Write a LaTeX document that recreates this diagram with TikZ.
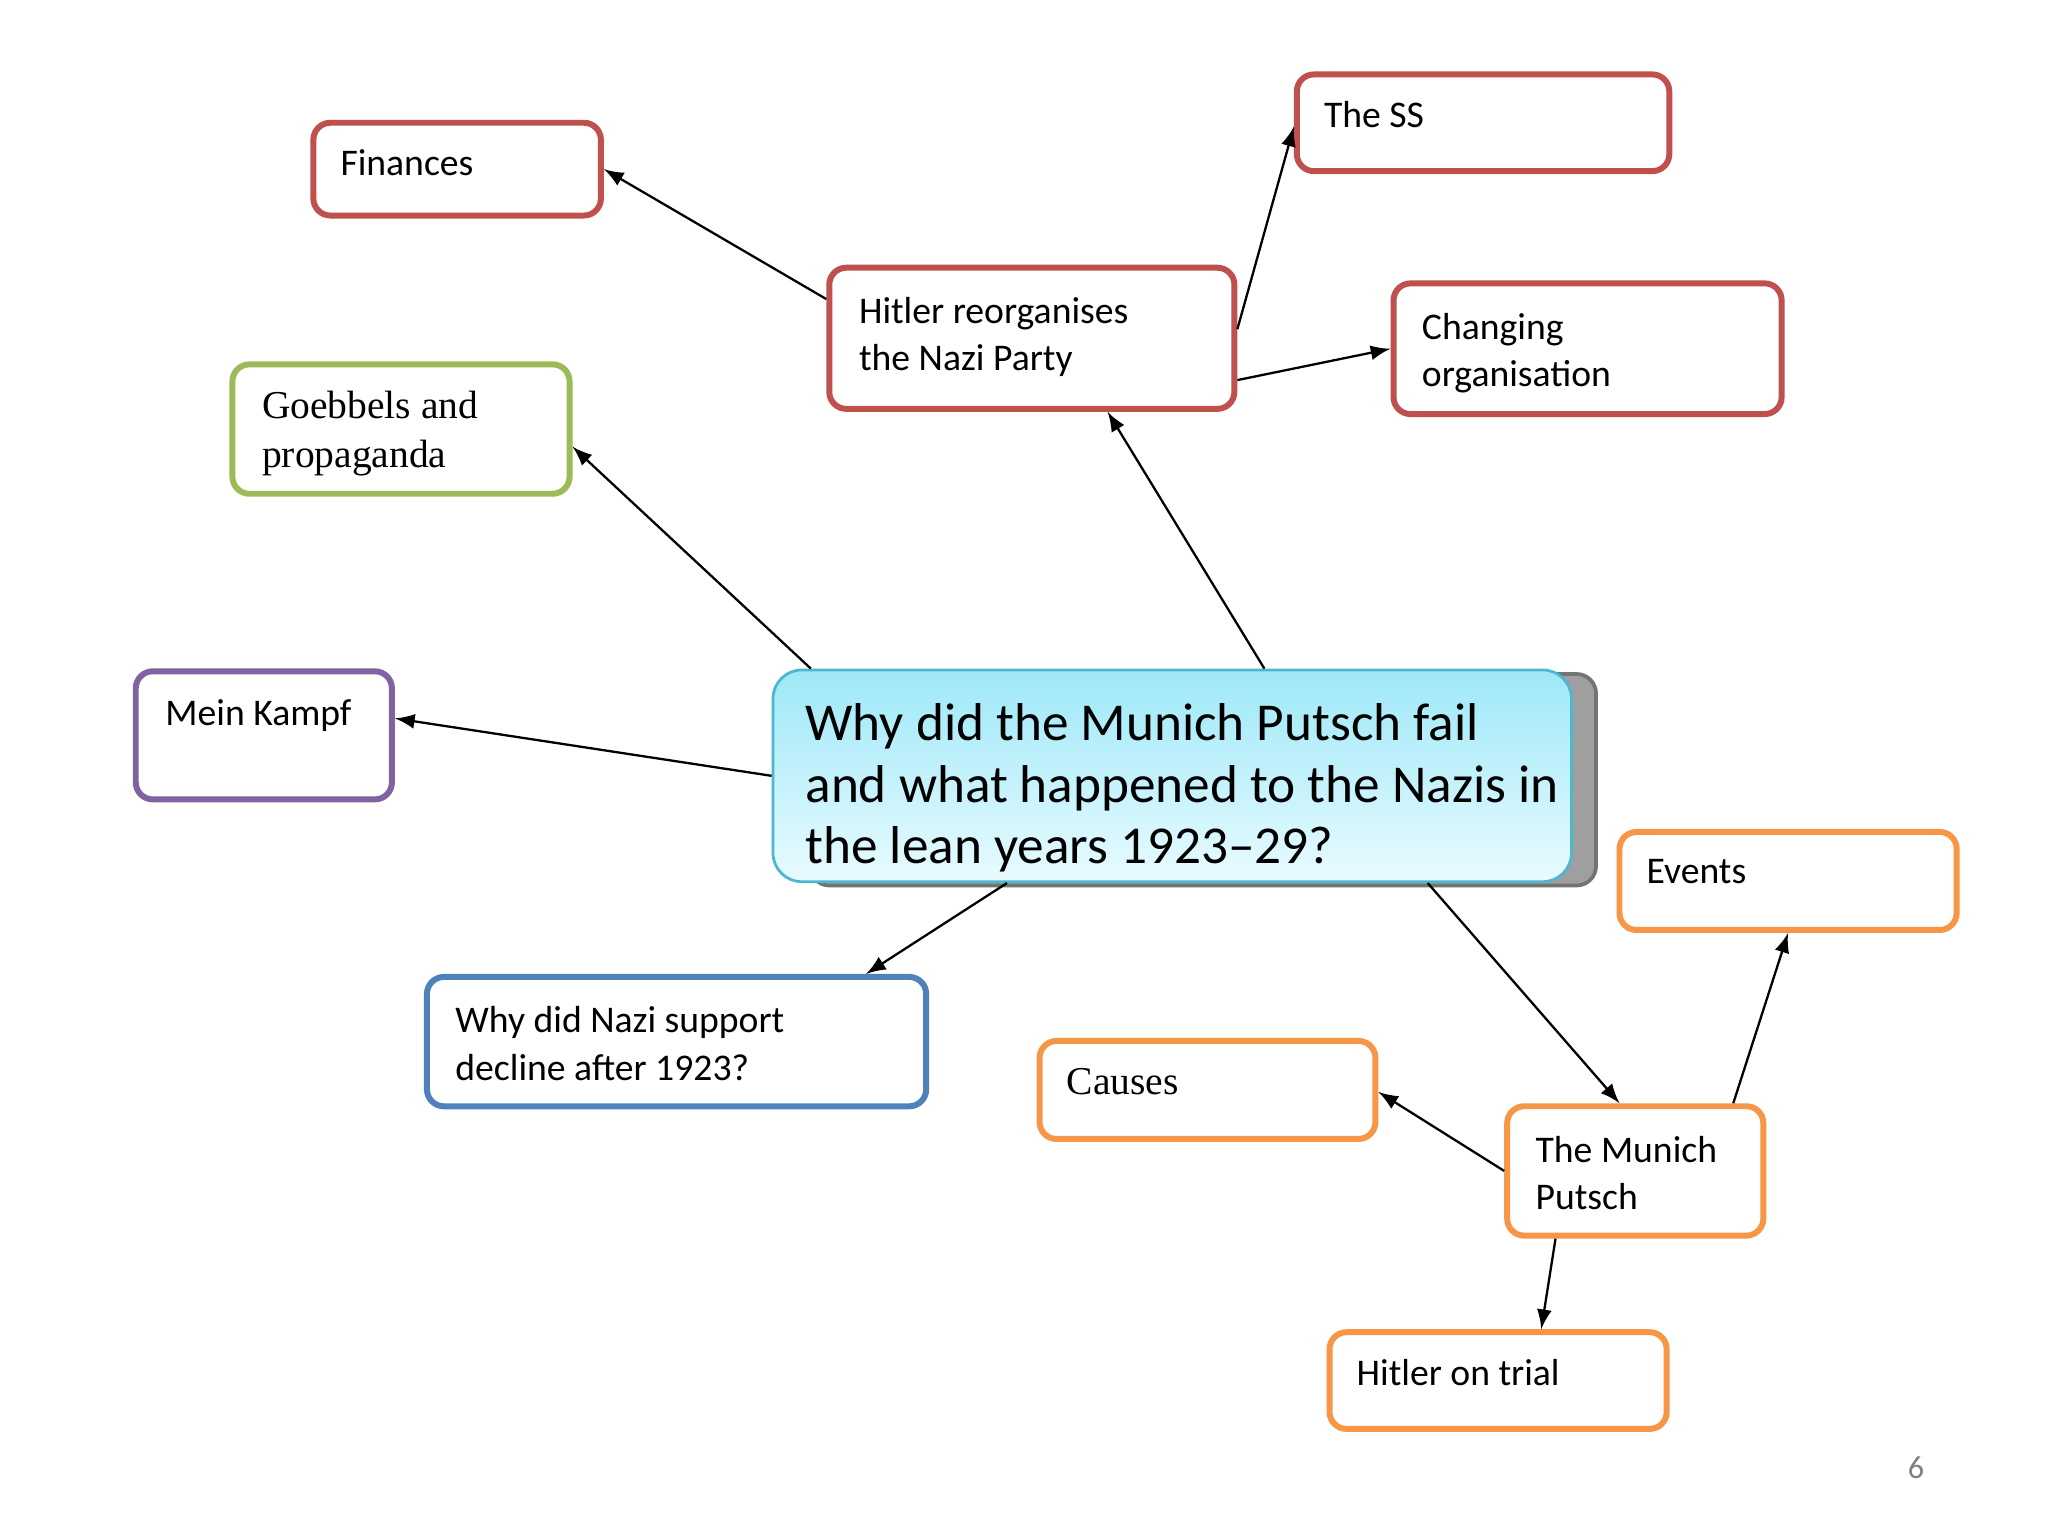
\documentclass[tikz,border=0pt]{standalone}
\usepackage{fontspec}
\setmainfont{Carlito}
\newfontfamily\serifx{Liberation Serif}
\usetikzlibrary{calc}
\definecolor{cred}{HTML}{C0504D}
\definecolor{cgreen}{HTML}{9BBB59}
\definecolor{cpurple}{HTML}{8064A2}
\definecolor{cblue}{HTML}{4F81BD}
\definecolor{corange}{HTML}{F79646}
\definecolor{ctop}{HTML}{9EE8F8}
\definecolor{cbot}{HTML}{E8FBFF}
\definecolor{cedge}{HTML}{4BB8D0}
\begin{document}
\begin{tikzpicture}[x=0.01cm,y=-0.01cm,
  box/.style={draw=#1,line width=1.3pt,rounded corners=0.13cm,fill=white,inner sep=0pt},
  txt/.style={anchor=north west,inner sep=0pt,align=left,font=\fontsize{8.2pt}{10.3pt}\selectfont},
  arr/.style={-latex,line width=0.5pt}]
\useasboundingbox (0,0) rectangle (1568,1176);
\fill[white] (0,0) rectangle (1568,1176);
% nodes
\node[box=cred,minimum width=2.2cm,minimum height=0.71cm] (fin) at (350,129.5) {};
\node[box=cred,minimum width=2.85cm,minimum height=0.74cm] (ss) at (1135.5,94) {};
\node[box=cred,minimum width=3.1cm,minimum height=1.08cm] (hit) at (790,259) {};
\node[box=cred,minimum width=2.97cm,minimum height=1.0cm] (chg) at (1215.5,267) {};
\node[box=cgreen,minimum width=2.58cm,minimum height=0.99cm] (goeb) at (307,328.5) {};
\node[box=cpurple,minimum width=1.96cm,minimum height=0.98cm] (mein) at (202,563) {};
\draw[rounded corners=0.15cm,fill=gray!75,draw=gray!90!black,line width=0.8pt] (620,516) rectangle (1222,678);
\node[draw=cedge,line width=0.6pt,rounded corners=0.22cm,top color=ctop,bottom color=cbot,inner sep=0pt,minimum width=6.11cm,minimum height=1.62cm] (main) at (897.5,594) {};
\node[box=corange,minimum width=2.58cm,minimum height=0.75cm] (ev) at (1369,674.5) {};
\node[box=cblue,minimum width=3.82cm,minimum height=0.99cm] (why) at (518,797.5) {};
\node[box=corange,minimum width=2.57cm,minimum height=0.75cm] (cau) at (924.5,834.5) {};
\node[box=corange,minimum width=1.96cm,minimum height=0.99cm] (mp) at (1252,896.5) {};
\node[box=corange,minimum width=2.58cm,minimum height=0.74cm] (tri) at (1147,1057) {};
% texts
\node[txt] (tfin) at (260,114) {Finances};
\node[txt] (tss) at (1013,77) {The SS};
\node[txt] (thit) at (657,227) {Hitler reorganises\\the Nazi Party};
\node[txt] (tchg) at (1088,239) {Changing\\organisation};
\node[txt,font=\serifx\fontsize{8.6pt}{10.5pt}\selectfont] (tgoeb) at (200,299) {Goebbels and\\propaganda};
\node[txt] (tmein) at (126,535) {Mein Kampf};
\node[txt,font=\fontsize{11.6pt}{13.4pt}\selectfont] (tmain) at (616,538) {Why did the Munich Putsch fail\\and what happened to the Nazis in\\the lean years 1923--29?};
\node[txt] (tev) at (1260,657) {Events};
\node[txt] (twhy) at (348,770) {Why did Nazi support\\decline after 1923?};
\node[txt,font=\serifx\fontsize{8.6pt}{10.5pt}\selectfont] (tcau) at (816,817) {Causes};
\node[txt] (tmp) at (1175,869) {The Munich\\Putsch};
\node[txt] (ttri) at (1038,1040) {Hitler on trial};
\node[anchor=center,inner sep=0pt,text=gray,font=\fontsize{7pt}{8pt}\selectfont] (pg) at (1467,1124) {6};
% arrows
\draw[arr] ([yshift=0.30cm]hit.west) -- (fin.east);
\draw[arr] ([yshift=0.07cm]hit.east) -- ([yshift=-0.03cm]ss.west);
\draw[arr] ([yshift=-0.32cm]hit.east) -- (chg.west);
\draw[arr] ([xshift=0.705cm]main.north) -- ([xshift=0.58cm]hit.south);
\draw[arr] ([xshift=0.3cm]main.north west) -- ([yshift=-0.135cm]goeb.east);
\draw[arr] (main.west) -- ([yshift=0.13cm]mein.east);
\draw[arr] ([xshift=-1.265cm]main.south) -- ([xshift=1.45cm]why.north);
\draw[arr] ([xshift=1.955cm]main.south) -- ([xshift=-0.12cm]mp.north);
\draw[arr] ([xshift=0.75cm]mp.north) -- (ev.south);
\draw[arr] (mp.west) -- ([yshift=-0.015cm]cau.east);
\draw[arr] ([xshift=-0.61cm]mp.south) -- ([xshift=0.33cm]tri.north);
\end{tikzpicture}
\end{document}
